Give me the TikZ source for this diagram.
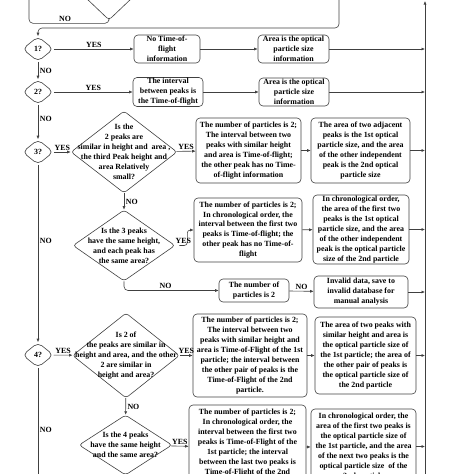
\documentclass[tikz,border=0pt]{standalone}
\usepackage{fontspec}
\setmainfont{Liberation Serif}
\usetikzlibrary{shapes.geometric,arrows.meta}

\tikzset{
  txt/.style={font=\fontsize{7.9}{9.9}\selectfont\bfseries},
  box/.style={txt,draw=black!75,rounded corners=4pt,align=center,inner sep=1pt},
  quest/.style={txt,draw=black!75,diamond,rounded corners=5pt,inner sep=0pt,minimum width=31pt,minimum height=25pt},
  bigq/.style={draw=black!75,diamond,rounded corners=3pt,inner sep=0pt},
  dtext/.style={txt,align=center,inner sep=0pt},
  lab/.style={txt,inner sep=1.5pt},
  arr/.style={-{Latex[length=3.5pt,width=3pt]}}
}

\begin{document}
\begin{tikzpicture}[x=1pt,y=-1pt,line width=0.6pt]
  \useasboundingbox (0,0) rectangle (474,474);
  \clip (0,0) rectangle (474,474);

  % Draw the question nodes
  \node[bigq,minimum width=84pt,minimum height=80pt] (topq) at (109,-20) {};
  \node[quest] (q1) at (38,49) {1?};
  \node[quest] (q2) at (38,92) {2?};
  \node[quest] (q3) at (38,152) {3?};
  \node[quest] (q4) at (38,355) {4?};
  \node[bigq,minimum width=106pt,minimum height=82pt,
    label={[dtext]center:{Is the\\2 peaks are\\similar in height and\ \ area ,\\the third Peak height and\\area Relatively\\small?}}] (d1) at (124,152) {};
  \node[bigq,minimum width=102pt,minimum height=71pt,
    label={[dtext]center:{Is the 3 peaks\\have the same height,\\and each peak has\\the same area?}}] (d2) at (124,245.5) {};
  \node[bigq,minimum width=107pt,minimum height=85pt,
    label={[dtext]center:{Is 2 of\\the peaks are similar in\\height and area, and the other\\2 are similar in\\height and area?}}] (d3) at (126,355.5) {};
  \node[bigq,minimum width=93pt,minimum height=60pt,
    label={[dtext]center:{Is the 4 peaks\\have the same height\\and the same area?}}] (d4) at (125.5,445) {};

  % Draw the result boxes
  \node[box,minimum width=66pt,minimum height=28pt] (notof) at (167,49) {No Time-of-\\flight\\information};
  \node[box,minimum width=71pt,minimum height=28pt] (area1) at (293.5,49) {Area is the optical\\particle size\\information};
  \node[box,minimum width=70pt,minimum height=28pt] (intv) at (168,92) {The interval\\between peaks is\\the Time-of-flight};
  \node[box,minimum width=70pt,minimum height=28pt] (area2) at (294,92) {Area is the optical\\particle size\\information};
  \node[box,minimum width=105pt,minimum height=65pt] (n2a) at (248.5,150.5) {The number of particles is 2;\\The interval between two\\peaks with similar height\\and area is Time-of-flight;\\the other peak has no Time-\\of-flight information};
  \node[box,minimum width=99pt,minimum height=65pt] (area3) at (360.5,150.5) {The area of two adjacent\\peaks is the 1st optical\\particle size, and the area\\of the other independent\\peak is the 2nd optical\\particle size};
  \node[box,minimum width=108pt,minimum height=64pt] (n2b) at (248,230) {The number of particles is 2;\\In chronological order, the\\interval between the first two\\peaks is Time-of-flight; the\\other peak has no Time-of-\\flight};
  \node[box,minimum width=96pt,minimum height=69pt] (area4) at (361,229.5) {In chronological order,\\the area of the first two\\peaks is the 1st optical\\particle size, and the area\\of the other independent\\peak is the optical particle\\size of the 2nd particle};
  \node[box,minimum width=70pt,minimum height=23pt] (n2c) at (254,290.5) {The number of\\particles is 2};
  \node[box,minimum width=94pt,minimum height=32pt] (inval) at (361,292) {Invalid data, save to\\invalid database for\\manual analysis};
  \node[box,minimum width=114pt,minimum height=83pt] (n2d) at (250,355.5) {The number of particles is 2;\\The interval between two\\peaks with similar height and\\area is Time-of-Flight of the 1st\\particle; the interval between\\the other pair of peaks is the\\Time-of-Flight of the 2nd\\particle.};
  \node[box,minimum width=101pt,minimum height=77pt] (area5) at (365.5,355.5) {The area of two peaks with\\similar height and area is\\the optical particle size of\\the 1st particle; the area of\\the other pair of peaks is\\the optical particle size of\\the 2nd particle};
  \node[box,minimum width=117pt,minimum height=85pt] (n2e) at (247.5,447.5) {The number of particles is 2;\\In chronological order, the\\interval between the first two\\peaks is Time-of-Flight of the\\1st particle; the interval\\between the last two peaks is\\Time-of-Flight of the 2nd\\particle};
  \node[box,minimum width=105pt,minimum height=75pt] (area6) at (363.5,446.5) {In chronological order, the\\area of the first two peaks is\\the optical particle size of\\the 1st particle, and the area\\of the next two peaks is the\\optical particle size\ \ of the\\2nd particle};

  % Free ends of the connectors
  \coordinate (topleft) at (29,-5);
  \coordinate (topin) at (339,-5);
  \coordinate (turn1) at (38,28);
  \coordinate (maintop) at (425,1);
  \coordinate (mainbot) at (425,480);
  \coordinate (q4out) at (38,480);

  % Draw the connectors at the top
  \draw[black!75,rounded corners=4pt] (topq.south) -- ++(0,3) -- node[lab,above,pos=0.55,black]{NO} ++(-80,0) -- (topleft);
  \draw[black!75,arr,rounded corners=4pt] (topin) |- (turn1) -- (q1.north);
  \draw[black!75,arr] (mainbot) -- (maintop);

  % Draw the left column
  \draw[black!75,arr] (q1) -- node[lab,right,black]{NO} (q2);
  \draw[black!75,arr] (q2) -- node[lab,right,pos=0.4,black]{NO} (q3);
  \draw[black!75,arr] (q3) -- node[lab,right,pos=0.43,black]{NO} (q4);
  \draw[black!75] (q4) -- node[lab,right,pos=0.55,black]{NO} (q4out);

  % Draw the YES branches
  \draw[black!75,arr] (q1) -- node[lab,above,black]{YES} (notof);
  \draw[black!75,arr] (q2) -- node[lab,above,black]{YES} (intv);
  \draw[black!75,arr] (q3) -- node[lab,above,black]{YES} (d1);
  \draw[black!75,arr] (q4) -- node[lab,above,black]{YES} (d3);
  \draw[black!75,arr] (d1) -- node[lab,above,black]{YES} (n2a);
  \draw[black!75,arr,rounded corners=3pt] ([xshift=4pt]d2.east) -- node[lab,above,black]{YES} ++(8,0) |- (n2b.west);
  \draw[black!75,arr] (d3) -- node[lab,above,black]{YES} (n2d);
  \draw[black!75,arr] (d4) -- node[lab,above,black]{YES} (n2e);

  % Draw the NO branches of the big questions
  \draw[black!75,arr] (d1) -- node[lab,right,black]{NO} (d2);
  \draw[black!75,arr] (d3) -- node[lab,right,black]{NO} (d4);
  \draw[black!75,arr,rounded corners=4pt] (d2.south) |- node[lab,above,pos=0.72,black]{NO} (n2c.west);
  \draw[black!75,arr] (n2c) -- node[lab,above,black]{NO} (inval);

  % Draw the arrows between the boxes
  \draw[black!75,arr] (notof) -- (area1);
  \draw[black!75,arr] (intv) -- (area2);
  \draw[black!75,arr] (n2a) -- (area3);
  \draw[black!75,arr] (n2b) -- (area4);
  \draw[black!75,arr] (n2d) -- (area5);
  \draw[black!75,arr] (n2e) -- (area6);

  % Draw the arrows into the main line
  \foreach \b in {area1,area2,area3,area4,inval,area5,area6}
    \draw[black!75,arr] (\b) -- (\b -| maintop);
\end{tikzpicture}
\end{document}
